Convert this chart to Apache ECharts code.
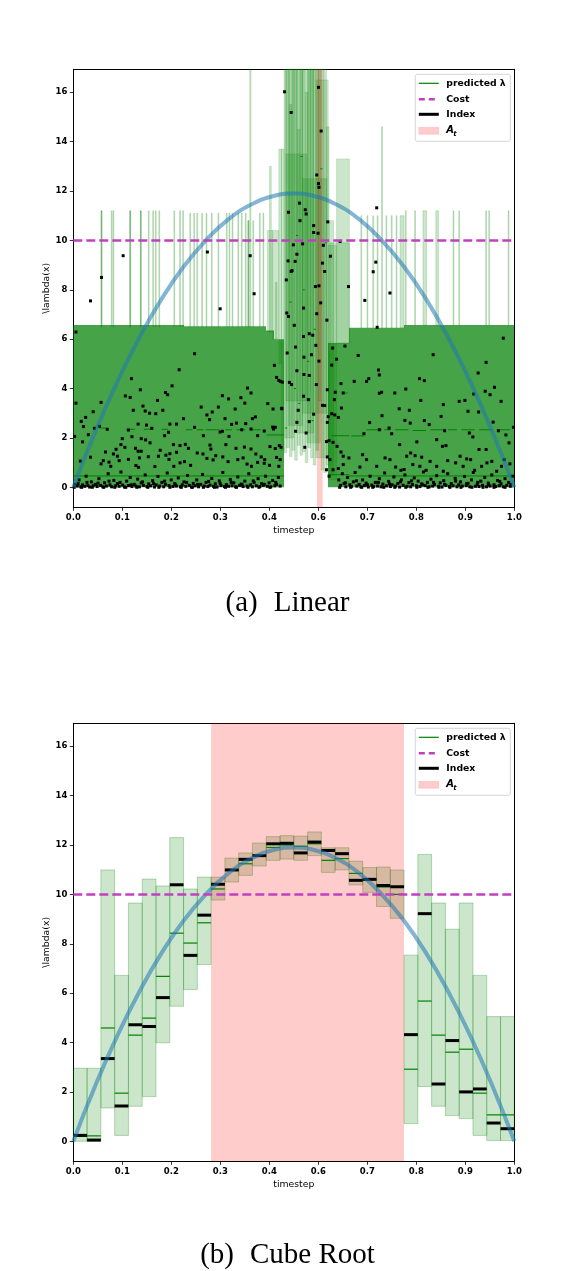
<!DOCTYPE html>
<html><head><meta charset="utf-8">
<script src="https://cdn.jsdelivr.net/npm/echarts@6/dist/echarts.min.js"></script>
<style>html,body{margin:0;padding:0;background:#fff;}#c{width:575px;height:1271px;}</style>
</head><body><div id="c"></div>
<script>
// ---------- shared axis data ----------
const X_TICKS = [0, 0.1111, 0.2222, 0.3333, 0.4444, 0.5556, 0.6667, 0.7778, 0.8889, 1.0];
const X_TICK_LABELS = ['0.0','0.1','0.2','0.3','0.4','0.6','0.7','0.8','0.9','1.0'];
const Y_TICKS = [0, 2, 4, 6, 8, 10, 12, 14, 16];
const Y_MIN = -0.81, Y_MAX = 16.93;

// true lambda curve
const CURVE_X = [0,0.05,0.1,0.15,0.2,0.25,0.3,0.35,0.4,0.45,0.5,0.55,0.6,0.65,0.7,0.75,0.8,0.85,0.9,0.95,1.0];
const CURVE_Y = [0,2.26,4.28,6.07,7.62,8.93,9.99,10.83,11.42,11.78,11.9,11.78,11.42,10.83,9.99,8.93,7.62,6.07,4.28,2.26,0];
const COST = 10;

// ---------- (a) Linear ----------
// boxes: [x0, x1, low, high]
const TOP_BULK = [
  [0.000,0.250,0,6.57],[0.250,0.438,0,6.52],[0.438,0.455,0,6.35],[0.455,0.478,0,6.0],
  [0.578,0.626,0,5.84],[0.626,0.751,0,6.46],[0.751,1.000,0,6.57]
];
const TOP_SPIKES = [
  [0.063,0.065,6.5,11.2],[0.063,0.065,6.5,11.2],[0.086,0.088,6.5,11.2],[0.090,0.092,6.5,11.2],
  [0.128,0.130,6.5,11.2],[0.128,0.130,6.5,11.2],[0.152,0.154,6.5,11.2],[0.152,0.154,6.5,11.2],
  [0.170,0.172,6.5,11.2],[0.180,0.182,6.5,11.2],[0.186,0.188,6.5,11.2],[0.194,0.196,6.5,11.2],
  [0.228,0.230,6.5,11.2],[0.241,0.243,6.5,11.2],[0.248,0.250,6.5,11.2],
  [0.264,0.266,6.5,11.1],[0.273,0.275,6.5,11.1],[0.280,0.282,6.5,11.1],[0.291,0.293,6.5,11.1],
  [0.301,0.303,6.5,11.1],[0.313,0.315,6.5,11.1],[0.328,0.330,6.5,11.1],[0.347,0.349,6.5,11.1],
  [0.353,0.355,6.5,11.1],[0.360,0.362,6.5,11.1],[0.373,0.375,6.5,11.1],[0.381,0.383,6.5,11.1],
  [0.390,0.392,6.5,11.1],[0.396,0.398,6.5,10.8],[0.396,0.398,6.5,10.8],[0.407,0.409,6.5,10.8],
  [0.422,0.424,6.5,11.1],[0.430,0.432,6.5,11.1],
  [0.652,0.654,6.46,11.0],[0.666,0.668,6.46,11.0],[0.679,0.681,6.46,11.0],[0.689,0.691,6.46,11.0],
  [0.699,0.701,6.46,14.6],[0.709,0.711,6.46,11.0],[0.721,0.723,6.46,11.0],[0.732,0.734,6.46,11.0],
  [0.741,0.750,6.46,11.0],[0.753,0.755,6.57,11.2],[0.774,0.776,6.57,11.2],[0.793,0.801,6.57,11.2],
  [0.822,0.828,6.57,11.2],[0.861,0.863,6.57,11.2],[0.874,0.876,6.57,11.2],[0.935,0.937,6.57,11.2],
  [0.942,0.944,6.57,11.2],[0.986,0.988,6.57,11.2]
];
const TOP_CHAOS = [
  [0.400,0.403,6.5,17.5],[0.440,0.452,6.3,10.4],[0.452,0.466,6.0,10.4],[0.445,0.449,6.3,13.0],
  [0.466,0.472,5.0,13.7],[0.472,0.478,1.5,13.7],[0.458,0.462,6.0,8.3],
  [0.478,0.484,1.40,17.5],[0.484,0.490,1.60,17.5],[0.490,0.496,1.25,15.5],[0.496,0.502,1.50,17.5],
  [0.502,0.508,1.10,17.5],[0.508,0.514,1.70,14.5],[0.514,0.520,1.30,17.5],[0.520,0.526,1.45,17.5],
  [0.526,0.532,1.00,16.0],[0.532,0.538,1.60,17.5],[0.538,0.544,1.20,17.5],[0.544,0.550,0.90,17.5],
  [0.550,0.556,1.50,17.5],[0.556,0.562,3.50,17.5],[0.562,0.568,0.70,17.5],[0.568,0.574,0.60,17.5],
  [0.574,0.580,0.90,14.6],
  [0.480,0.500,2.00,17.5],[0.488,0.520,2.50,17.5],[0.505,0.545,2.20,17.5],[0.530,0.560,1.80,17.5],
  [0.550,0.578,1.20,16.5],[0.482,0.530,3.50,13.5],[0.520,0.575,3.00,12.5],
  [0.578,0.597,0.30,9.8],[0.580,0.590,0.50,10.8],[0.597,0.626,5.84,13.3],[0.582,0.626,5.84,9.9]
];
// predicted lambda segments: [x0, x1, value]
const TOP_PRED = [
  [0.000,0.478,0.46],[0.578,0.626,0.51],[0.626,1.000,0.46],
  [0.060,0.075,2.40],[0.120,0.140,2.35],[0.160,0.180,2.35],[0.200,0.215,2.35],
  [0.255,0.270,2.33],[0.280,0.295,2.33],[0.300,0.330,2.33],[0.345,0.360,2.33],[0.370,0.390,2.33],[0.400,0.425,2.33],
  [0.438,0.478,2.12],[0.585,0.626,2.09],[0.630,0.660,2.08],
  [0.665,0.700,2.33],[0.705,0.720,2.33],[0.730,0.760,2.33],[0.770,0.800,2.30],[0.810,0.840,2.33],
  [0.850,0.870,2.33],[0.880,0.910,2.33],[0.920,0.950,2.33],[0.960,0.990,2.33],
  [0.615,0.622,3.82],[0.480,0.485,2.40],[0.490,0.495,7.50],[0.500,0.505,4.00],[0.505,0.510,10.2],
  [0.510,0.515,3.40],[0.515,0.520,13.4],[0.520,0.525,8.00],[0.530,0.535,5.10],[0.540,0.545,2.70],
  [0.545,0.550,6.40],[0.560,0.565,12.9],[0.570,0.575,9.90]
];
// Index points: [x, value]
const TOP_INDEX_LOW = [
  [0.004,0.12],[0.009,0.05],[0.013,0.3],[0.017,0.02],[0.021,0.1],[0.026,0.04],[0.029,0.45],[0.033,0.07],[0.037,0.01],[0.041,0.22],
  [0.045,0.06],[0.05,0.12],[0.054,0.03],[0.058,0.35],[0.062,0.08],[0.067,0.02],[0.071,0.18],[0.075,0.05],[0.079,0.55],[0.083,0.1],
  [0.087,0.02],[0.092,0.28],[0.096,0.06],[0.1,0.15],[0.104,0.04],[0.108,0.62],[0.112,0.09],[0.116,0.01],[0.121,0.25],[0.125,0.07],
  [0.129,0.4],[0.133,0.03],[0.138,0.12],[0.142,0.05],[0.146,0.33],[0.15,0.02],[0.154,0.18],[0.159,0.08],[0.163,0.5],[0.167,0.03],
  [0.171,0.14],[0.175,0.06],[0.18,0.27],[0.184,0.01],[0.188,0.1],[0.192,0.44],[0.196,0.05],[0.201,0.2],[0.205,0.02],[0.209,0.12],
  [0.213,0.58],[0.217,0.07],[0.222,0.3],[0.226,0.03],[0.23,0.15],[0.234,0.05],[0.238,0.38],[0.243,0.02],[0.247,0.1],[0.251,0.22],
  [0.255,0.04],[0.259,0.48],[0.263,0.08],[0.268,0.01],[0.272,0.16],[0.276,0.06],[0.28,0.3],[0.284,0.02],[0.289,0.12],[0.293,0.52],
  [0.297,0.05],[0.301,0.2],[0.305,0.03],[0.31,0.09],[0.314,0.36],[0.318,0.04],[0.322,0.14],[0.326,0.01],[0.331,0.26],[0.335,0.07],
  [0.339,0.6],[0.343,0.03],[0.347,0.11],[0.352,0.04],[0.356,0.32],[0.36,0.06],[0.364,0.18],[0.368,0.02],[0.373,0.42],[0.377,0.08],
  [0.381,0.13],[0.385,0.03],[0.389,0.25],[0.394,0.05],[0.398,0.55],[0.402,0.1],[0.406,0.02],[0.41,0.2],[0.415,0.06],[0.419,0.35],
  [0.423,0.03],[0.427,0.15],[0.431,0.08],[0.436,0.45],[0.44,0.04],[0.444,0.18],[0.448,0.02],[0.452,0.28],[0.457,0.06],[0.461,0.12],
  [0.465,0.4],[0.469,0.05],
  [0.002,0.0],[0.011,0.15],[0.019,0.0],[0.031,0.2],[0.043,0.0],[0.056,0.17],[0.069,0.0],[0.081,0.25],[0.094,0.0],[0.106,0.2],
  [0.119,0.0],[0.131,0.1],[0.144,0.0],[0.157,0.22],[0.169,0.0],[0.182,0.15],[0.194,0.0],[0.207,0.25],[0.219,0.0],[0.232,0.1],
  [0.245,0.0],[0.257,0.2],[0.27,0.0],[0.282,0.12],[0.295,0.0],[0.307,0.24],[0.32,0.0],[0.333,0.15],[0.345,0.0],[0.358,0.2],
  [0.37,0.0],[0.383,0.1],[0.396,0.0],[0.408,0.26],[0.421,0.0],[0.433,0.12],[0.446,0.0],[0.459,0.2],
  [0.602,0.3],[0.606,0.08],[0.61,0.55],[0.614,0.15],[0.618,0.02],[0.622,0.4],[0.627,0.1],[0.631,0.04],[0.635,0.22],[0.639,0.6],
  [0.643,0.05],[0.648,0.12],[0.652,0.02],[0.656,0.3],[0.66,0.07],[0.664,0.17],[0.669,0.01],[0.673,0.45],[0.677,0.09],[0.681,0.03],
  [0.685,0.2],[0.69,0.05],[0.694,0.35],[0.698,0.02],[0.702,0.13],[0.706,0.58],[0.71,0.06],[0.715,0.24],[0.719,0.03],[0.723,0.1],
  [0.727,0.42],[0.731,0.05],[0.736,0.16],[0.74,0.01],[0.744,0.3],[0.748,0.08],[0.752,0.5],[0.757,0.04],[0.761,0.19],[0.765,0.02],
  [0.769,0.11],[0.773,0.38],[0.778,0.06],[0.782,0.25],[0.786,0.03],[0.79,0.14],[0.794,0.62],[0.798,0.07],[0.803,0.2],[0.807,0.02],
  [0.811,0.33],[0.815,0.05],[0.819,0.12],[0.824,0.47],[0.828,0.04],[0.832,0.18],[0.836,0.01],[0.84,0.27],[0.845,0.08],[0.849,0.55],
  [0.853,0.03],[0.857,0.15],[0.861,0.06],[0.866,0.36],[0.87,0.02],[0.874,0.1],[0.878,0.22],[0.882,0.05],[0.887,0.44],[0.891,0.07],
  [0.895,0.16],[0.899,0.02],[0.903,0.3],[0.907,0.6],[0.912,0.04],[0.916,0.12],[0.92,0.03],[0.924,0.25],[0.928,0.08],[0.933,0.4],
  [0.937,0.02],[0.941,0.17],[0.945,0.05],[0.949,0.5],[0.954,0.1],[0.958,0.03],[0.962,0.28],[0.966,0.06],[0.97,0.14],[0.975,0.02],
  [0.979,0.35],[0.983,0.08],[0.987,0.2],[0.991,0.04],[0.996,0.45],
  [0.604,0.0],[0.617,0.18],[0.629,0.0],[0.642,0.26],[0.654,0.0],[0.667,0.1],[0.679,0.0],[0.692,0.2],[0.704,0.0],[0.717,0.14],
  [0.729,0.0],[0.742,0.22],[0.754,0.0],[0.767,0.26],[0.779,0.0],[0.792,0.1],[0.804,0.0],[0.817,0.2],[0.829,0.0],[0.842,0.12],
  [0.854,0.0],[0.867,0.25],[0.879,0.0],[0.892,0.15],[0.904,0.0],[0.917,0.2],[0.929,0.0],[0.942,0.1],[0.954,0.0],[0.967,0.24],
  [0.979,0.0],[0.992,0.12]
];
const TOP_INDEX_LEFT = [
  [0.113,9.38],[0.064,8.5],[0.039,7.55],[0.006,6.29],[0.24,4.76],[0.132,4.4],[0.152,3.95],[0.118,3.7],[0.129,3.64],[0.063,3.44],
  [0.006,3.41],[0.191,3.52],[0.209,3.84],[0.214,3.75],[0.224,4.11],[0.136,3.12],[0.158,3.29],[0.163,3.09],[0.173,3.0],[0.187,2.98],
  [0.203,3.12],[0.045,3.06],[0.028,2.83],[0.018,2.67],[0.023,2.46],[0.048,2.39],[0.059,2.47],[0.077,2.35],[0.125,2.32],[0.147,2.56],
  [0.166,2.52],[0.178,2.39],[0.219,2.56],[0.234,2.56],[0.25,2.78],[0.003,2.06],[0.034,2.13],[0.111,1.97],[0.133,2.05],[0.154,1.97],
  [0.164,1.92],[0.174,1.8],[0.207,2.09],[0.216,2.23],[0.227,1.73],[0.242,1.69],[0.021,1.84],[0.108,1.73],[0.117,1.62],[0.141,1.58],
  [0.097,1.54],[0.073,1.43],[0.091,1.35],[0.147,1.46],[0.154,1.46],[0.197,1.5],[0.21,1.3],[0.219,1.36],[0.234,1.42],[0.039,1.22],
  [0.1,1.26],[0.068,1.08],[0.081,1.02],[0.104,1.08],[0.125,1.13],[0.15,1.19],[0.17,1.24],[0.193,1.26],[0.016,1.06],[0.063,0.95],
  [0.085,0.85],[0.142,0.88],[0.148,0.81],[0.185,0.84],[0.217,1.13],[0.228,0.85],[0.242,0.99],
  [0.304,9.53],[0.401,9.38],[0.41,7.84],[0.333,7.23],[0.275,5.41],[0.395,4.02],[0.403,3.82],[0.338,3.71],[0.352,3.58],[0.38,3.63],
  [0.389,3.41],[0.367,3.17],[0.29,3.25],[0.315,3.05],[0.303,2.93],[0.309,2.74],[0.329,3.25],[0.344,2.78],[0.359,2.55],[0.37,2.6],
  [0.391,2.58],[0.406,2.78],[0.413,2.85],[0.275,2.43],[0.333,2.24],[0.338,2.27],[0.382,2.33],[0.403,2.36],[0.295,2.09],[0.353,2.06],
  [0.418,2.09],[0.433,2.28],[0.441,3.39],[0.453,3.17],[0.452,2.44],[0.458,2.43],[0.456,4.94],[0.47,4.29],[0.461,4.45],[0.472,3.2],
  [0.254,1.74],[0.261,1.58],[0.281,1.39],[0.294,1.35],[0.31,1.71],[0.312,1.55],[0.323,1.28],[0.346,1.73],[0.369,1.58],[0.388,1.63],
  [0.403,1.55],[0.414,1.35],[0.446,1.65],[0.458,1.57],[0.467,1.69],[0.426,1.23],[0.434,1.12],[0.461,1.21],[0.469,1.12],[0.252,1.04],
  [0.266,0.89],[0.303,1.17],[0.317,1.11],[0.339,1.23],[0.351,1.04],[0.373,1.12],[0.385,1.19],[0.394,0.94],[0.404,0.85],[0.418,1.01],
  [0.433,0.97],[0.445,0.89],[0.466,0.85]
];
const TOP_INDEX_MID = [
  [0.479,16.02],[0.494,15.18],[0.556,16.2],[0.562,14.43],[0.552,12.65],[0.556,12.3],[0.557,12.15],[0.513,11.51],[0.526,11.24],[0.528,11.07],
  [0.488,11.14],[0.545,10.6],[0.577,10.75],[0.514,10.8],[0.545,10.32],[0.555,10.29],[0.499,9.82],[0.52,9.86],[0.567,9.8],[0.605,9.96],
  [0.507,9.44],[0.583,9.36],[0.565,9.08],[0.503,9.15],[0.487,9.17],[0.494,8.74],[0.57,8.74],[0.496,8.78],[0.483,8.4],[0.549,8.13],
  [0.557,8.16],[0.522,7.26],[0.552,7.03],[0.561,7.47],[0.484,7.06],[0.488,6.92],[0.501,6.56],[0.575,6.77],[0.522,6.11],[0.535,6.22],
  [0.543,6.16],[0.55,5.75],[0.504,5.68],[0.588,5.64],[0.485,5.44],[0.523,5.27],[0.54,5.37],[0.557,5.11],[0.586,4.95],[0.507,4.72],
  [0.523,4.57],[0.535,4.53],[0.551,4.16],[0.576,3.95],[0.495,4.16],[0.49,4.25],[0.466,4.33],[0.474,4.26],[0.522,3.69],[0.533,3.55],
  [0.565,3.32],[0.545,2.96],[0.51,3.12],[0.473,3.18],[0.535,2.66],[0.507,2.63],[0.576,2.63],[0.528,2.2],[0.504,2.27],[0.454,2.36],
  [0.574,1.85],[0.525,1.62],[0.471,1.62],[0.576,1.23],[0.582,1.12],[0.574,0.71],[0.58,0.45]
];
const TOP_INDEX_RIGHT = [
  [0.688,11.32],[0.686,9.12],[0.68,8.73],[0.718,7.87],[0.661,7.57],[0.689,6.48],[0.624,8.13],[0.616,5.72],[0.597,5.19],[0.646,5.34],
  [0.692,4.75],[0.694,4.55],[0.67,4.4],[0.665,4.29],[0.637,4.29],[0.607,4.2],[0.594,3.85],[0.694,3.81],[0.699,3.85],[0.729,3.82],
  [0.612,3.82],[0.57,3.31],[0.592,3.55],[0.608,3.21],[0.739,3.18],[0.586,2.98],[0.593,2.93],[0.601,2.83],[0.578,2.86],[0.7,2.9],
  [0.672,2.62],[0.694,2.33],[0.716,2.4],[0.722,2.17],[0.659,2.17],[0.74,1.73],[0.58,1.89],[0.589,1.82],[0.598,1.66],[0.607,1.43],
  [0.612,1.26],[0.625,1.19],[0.656,1.32],[0.665,1.12],[0.707,1.19],[0.718,1.12],[0.65,0.82],[0.589,0.71],[0.601,0.76],[0.612,0.92],
  [0.688,0.85],[0.731,0.82],
  [0.975,6.04],[0.816,5.37],[0.936,5.06],[0.918,4.63],[0.785,4.4],[0.796,4.32],[0.955,4.05],[0.934,3.89],[0.945,3.75],[0.754,3.98],
  [0.908,3.78],[0.788,3.52],[0.875,3.48],[0.888,3.52],[0.97,3.48],[0.839,3.35],[0.762,3.12],[0.895,3.08],[0.919,3.05],[0.834,2.87],
  [0.752,2.71],[0.764,2.6],[0.796,2.7],[0.807,2.54],[0.952,2.64],[0.998,2.43],[0.842,2.29],[0.964,2.29],[0.898,2.2],[0.906,2.04],
  [0.981,2.12],[0.824,1.93],[0.779,1.84],[0.988,1.8],[0.837,1.66],[0.845,1.69],[0.92,1.53],[0.936,1.53],[0.765,1.39],[0.775,1.28],
  [0.756,1.26],[0.79,1.22],[0.877,1.26],[0.892,1.15],[0.901,1.12],[0.977,1.12],[0.809,1.05],[0.849,1.08],[0.867,0.99],[0.938,0.99],
  [0.949,1.05],[0.99,0.95],[0.77,0.92],[0.786,0.85],[0.824,0.85],[0.884,0.85],[0.926,0.85],[0.971,0.85],[0.743,0.69],[0.75,0.72],
  [0.8,0.69],[0.839,0.65],[0.91,0.69],[0.96,0.65]
];
const TOP_AT = [[0.5525, 0.5655]];

// ---------- (b) Cube Root : 32 bins ----------
const BIN_LO    = [0,0,1.35,0.24,1.42,1.81,3.99,5.47,6.15,7.16,9.77,10.5,10.77,11.15,11.38,11.43,11.38,11.57,10.89,10.99,10.38,10.08,9.51,9.03,0.72,2.22,1.42,1.04,0.92,0.24,0.03,0.03];
const BIN_HI    = [2.96,2.96,10.99,6.72,9.65,10.62,10.34,12.3,10.22,10.7,10.7,11.47,11.68,12.08,12.34,12.38,12.36,12.53,11.89,11.89,11.35,11.09,11.11,10.99,7.54,11.62,9.65,8.59,9.65,6.72,5.05,5.05];
const BIN_PRED  = [0.2,0.22,4.59,1.95,4.3,4.99,6.68,8.43,8.03,8.85,10.22,10.98,11.24,11.57,11.9,12.0,11.95,12.05,11.38,11.45,10.85,10.6,10.3,10.0,2.92,5.68,4.3,3.61,3.73,1.95,1.07,1.07];
const BIN_INDEX = [0.24,0.05,3.35,1.43,4.72,4.65,5.82,10.39,7.53,9.16,10.41,10.99,11.42,11.57,12.05,12.07,11.68,12.12,11.78,11.65,10.57,10.61,10.36,10.31,4.32,9.22,2.32,4.08,2.0,2.12,0.74,0.51];
const BOT_AT = [[0.3125, 0.75]];

// ---------- layout ----------
const GRIDS = [{left:73.3, top:69.3, width:441, height:438}, {left:73.3, top:723.3, width:441, height:438}];
const FONT = 'DejaVu Sans';
const SERIF = 'Liberation Serif';
const GREEN = '#008000';

const NB = BIN_LO.length;
const BIN_BOXES = BIN_LO.map((lo, i) => [i / NB, (i + 1) / NB, lo, BIN_HI[i]]);
const BIN_PRED_SEG = BIN_PRED.map((v, i) => [i / NB, (i + 1) / NB, v]);
const BIN_INDEX_SEG = BIN_INDEX.map((v, i) => [i / NB, (i + 1) / NB, v]);
const CURVE = CURVE_X.map((x, i) => [x, CURVE_Y[i]]);

function clipR(r, cs) {
  return echarts.graphic.clipRectByRect(r, {x: cs.x, y: cs.y, width: cs.width, height: cs.height});
}
function boxSeries(data, gi, style, z, snap) {
  return {type: 'custom', xAxisIndex: gi, yAxisIndex: gi, data: data, z: z, silent: true,
    encode: {x: [0, 1], y: [2, 3]},
    renderItem: function (params, api) {
      const a = api.coord([api.value(0), api.value(3)]);
      const b = api.coord([api.value(1), api.value(2)]);
      let xa = a[0], xb = b[0];
      if (snap) { xa = Math.round(xa); xb = Math.round(xb); }
      const r = clipR({x: xa, y: a[1], width: Math.max(xb - xa, 0.6), height: b[1] - a[1]}, params.coordSys);
      if (!r) return null;
      return {type: 'rect', shape: r, style: Object.assign({}, style)};
    }};
}
function segSeries(data, gi, color, width, z) {
  return {type: 'custom', xAxisIndex: gi, yAxisIndex: gi, data: data, z: z, silent: true,
    encode: {x: [0, 1], y: 2},
    renderItem: function (params, api) {
      const a = api.coord([api.value(0), api.value(2)]);
      const b = api.coord([api.value(1), api.value(2)]);
      return {type: 'line', shape: {x1: a[0], y1: a[1], x2: b[0], y2: b[1]}, style: {stroke: color, lineWidth: width}};
    }};
}
function bandSeries(data, gi, z) {
  return {type: 'custom', xAxisIndex: gi, yAxisIndex: gi, data: data, z: z, silent: true,
    encode: {x: [0, 1]},
    renderItem: function (params, api) {
      const cs = params.coordSys;
      const a = api.coord([api.value(0), 0]);
      const b = api.coord([api.value(1), 0]);
      return {type: 'rect', shape: {x: a[0], y: cs.y, width: b[0] - a[0], height: cs.height},
        style: {fill: 'rgba(255,0,0,0.2)'}};
    }};
}
function curveSeries(gi) {
  return {type: 'line', xAxisIndex: gi, yAxisIndex: gi, data: CURVE, smooth: true, showSymbol: false, symbol: 'none',
    z: 6, silent: true, lineStyle: {color: '#1f77b4', width: 4, opacity: 0.55}};
}
function costSeries(gi) {
  return {type: 'line', xAxisIndex: gi, yAxisIndex: gi, data: [[0, COST], [1, COST]], symbol: 'none', z: 7, silent: true,
    lineStyle: {color: '#c040c0', width: 2.5, type: [9, 4]}};
}
function xAxisMain(gi) {
  return {type: 'value', gridIndex: gi, min: 0, max: 1, position: 'bottom',
    name: 'timestep', nameLocation: 'middle', nameGap: 18.7, nameMoveOverlap: false,
    nameTextStyle: {fontFamily: FONT, fontSize: 9.3, color: '#000'},
    axisLine: {show: true, onZero: false, lineStyle: {color: '#000', width: 1}},
    axisTick: {show: true, length: 3.5, customValues: X_TICKS, lineStyle: {color: '#000', width: 0.8}},
    axisLabel: {show: true, customValues: X_TICKS, margin: 5.5, fontFamily: FONT, fontWeight: 'bold', fontSize: 8.5, color: '#000',
      formatter: function (v) { const i = X_TICKS.findIndex(t => Math.abs(t - v) < 1e-6); return i >= 0 ? X_TICK_LABELS[i] : ''; }},
    splitLine: {show: false}};
}
function yAxisMain(gi) {
  return {type: 'value', gridIndex: gi, min: Y_MIN, max: Y_MAX, position: 'left',
    name: '\\lambda(x)', nameLocation: 'middle', nameGap: 22.5, nameMoveOverlap: false,
    nameTextStyle: {fontFamily: FONT, fontSize: 9.3, color: '#000'},
    axisLine: {show: true, onZero: false, lineStyle: {color: '#000', width: 1}},
    axisTick: {show: true, length: 3.5, customValues: Y_TICKS, lineStyle: {color: '#000', width: 0.8}},
    axisLabel: {show: true, customValues: Y_TICKS, margin: 6, fontFamily: FONT, fontWeight: 'bold', fontSize: 8.5, color: '#000'},
    splitLine: {show: false}};
}
function frameX(gi) {
  return {type: 'value', gridIndex: gi, min: 0, max: 1, position: 'top',
    axisLine: {show: true, onZero: false, lineStyle: {color: '#000', width: 1}},
    axisTick: {show: false}, axisLabel: {show: false}, splitLine: {show: false}};
}
function frameY(gi) {
  return {type: 'value', gridIndex: gi, min: Y_MIN, max: Y_MAX, position: 'right',
    axisLine: {show: true, onZero: false, lineStyle: {color: '#000', width: 1}},
    axisTick: {show: false}, axisLabel: {show: false}, splitLine: {show: false}};
}
function legend(g) {
  const x0 = g.left + g.width - 99, y0 = g.top + 5;
  const rows = [y0 + 9, y0 + 25, y0 + 40, y0 + 56.5];
  const sx1 = x0 + 3.5, sx2 = x0 + 23.5, tx = x0 + 31;
  const ts = {fontFamily: FONT, fontWeight: 'bold', fontSize: 9.3, fill: '#000', verticalAlign: 'middle', align: 'left'};
  return {type: 'group', z: 100, children: [
    {type: 'rect', shape: {x: x0, y: y0, width: 95, height: 67, r: 2}, style: {fill: 'rgba(255,255,255,0.8)', stroke: '#cccccc', lineWidth: 0.8}},
    {type: 'line', shape: {x1: sx1, y1: rows[0], x2: sx2, y2: rows[0]}, style: {stroke: GREEN, lineWidth: 1.2}},
    {type: 'text', style: Object.assign({x: tx, y: rows[0], text: 'predicted \u03bb'}, ts)},
    {type: 'line', shape: {x1: sx1, y1: rows[1], x2: sx2, y2: rows[1]}, style: {stroke: '#c040c0', lineWidth: 2.5, lineDash: [6, 4]}},
    {type: 'text', style: Object.assign({x: tx, y: rows[1], text: 'Cost'}, ts)},
    {type: 'line', shape: {x1: sx1, y1: rows[2], x2: sx2, y2: rows[2]}, style: {stroke: '#000', lineWidth: 3}},
    {type: 'text', style: Object.assign({x: tx, y: rows[2], text: 'Index'}, ts)},
    {type: 'rect', shape: {x: sx1, y: rows[3] - 3.5, width: 20, height: 7}, style: {fill: 'rgba(255,0,0,0.2)', stroke: 'rgba(255,0,0,0.2)', lineWidth: 0.5}},
    {type: 'text', style: Object.assign({}, ts, {x: tx, y: rows[3] - 0.5, text: 'A', fontStyle: 'italic', fontSize: 10})},
    {type: 'text', style: Object.assign({}, ts, {x: tx + 7, y: rows[3] + 3, text: 't', fontStyle: 'italic', fontSize: 7})}
  ]};
}
function caption(label, name, top) {
  return {text: '{p|' + label + '}{q|' + name + '}', left: 'center', top: top,
    textStyle: {fontFamily: SERIF, fontSize: 29, fontWeight: 'normal', color: '#000',
      rich: {p: {fontFamily: SERIF, fontSize: 29, color: '#000', padding: [0, 16, 0, 0]},
             q: {fontFamily: SERIF, fontSize: 29, color: '#000'}}}};
}

const chart = echarts.init(document.getElementById('c'), null, {renderer: 'canvas'});
const option = {
  animation: false,
  backgroundColor: '#fff',
  title: [caption('(a)', 'Linear', 584), caption('(b)', 'Cube Root', 1236)],
  grid: GRIDS.map(g => Object.assign({containLabel: false, show: false}, g)),
  xAxis: [xAxisMain(0), xAxisMain(1), frameX(0), frameX(1)],
  yAxis: [yAxisMain(0), yAxisMain(1), frameY(0), frameY(1)],
  series: [
    // (a)
    boxSeries(TOP_BULK, 0, {fill: 'rgba(0,128,0,0.72)'}, 2, true),
    boxSeries(TOP_SPIKES, 0, {fill: 'rgba(0,128,0,0.2)', stroke: 'rgba(0,128,0,0.3)', lineWidth: 0.6}, 2, false),
    boxSeries(TOP_CHAOS, 0, {fill: 'rgba(0,128,0,0.2)', stroke: 'rgba(0,128,0,0.25)', lineWidth: 0.6}, 2, false),
    bandSeries(TOP_AT, 0, 3),
    segSeries(TOP_PRED, 0, GREEN, 1, 4),
    {type: 'scatter', xAxisIndex: 0, yAxisIndex: 0, data: TOP_INDEX_LOW.concat(TOP_INDEX_LEFT, TOP_INDEX_MID, TOP_INDEX_RIGHT),
      symbol: 'rect', symbolSize: 3, z: 5, silent: true, itemStyle: {color: '#000', opacity: 1}},
    curveSeries(0), costSeries(0),
    // (b)
    boxSeries(BIN_BOXES, 1, {fill: 'rgba(0,128,0,0.2)', stroke: 'rgba(0,128,0,0.35)', lineWidth: 0.8}, 2, false),
    bandSeries(BOT_AT, 1, 3),
    segSeries(BIN_PRED_SEG, 1, GREEN, 1.2, 4),
    segSeries(BIN_INDEX_SEG, 1, '#000', 3, 5),
    curveSeries(1), costSeries(1)
  ],
  graphic: [legend(GRIDS[0]), legend(GRIDS[1])]
};
chart.setOption(option);
</script></body></html>
